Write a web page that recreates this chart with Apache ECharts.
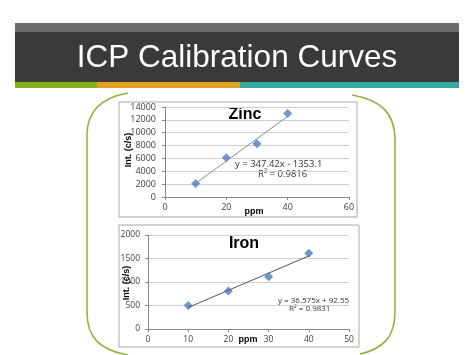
<!DOCTYPE html>
<html>
<head>
<meta charset="utf-8">
<script src="https://cdn.jsdelivr.net/npm/echarts@6/dist/echarts.min.js"></script>
<style>
  html, body { margin: 0; padding: 0; background: #fff; }
  #main { width: 474px; height: 355px; }
</style>
</head>
<body>
<div id="main"></div>
<script>
// Zinc calibration
var zincPoints = [[10, 2100], [20, 6100], [30, 8300], [40, 13000]];
var zincTrend = [[10, 2121], [40, 12543]];
var zincEquation = ['y = 347.42x - 1353.1', 'R² = 0.9816'];
// Iron calibration
var ironPoints = [[10, 500], [20, 810], [30, 1110], [40, 1610]];
var ironTrend = [[10, 458], [40, 1555]];
var ironEquation = ['y = 36.575x + 92.55', 'R² = 0.9831'];

var blue = '#4A7EBB';
var green = '#8db33a';

function xAxisOf(idx, max, interval, fs) {
    return {
        gridIndex: idx, type: 'value', min: 0, max: max, interval: interval,
        axisLine: { show: true, lineStyle: { color: '#888', width: 1 } },
        axisTick: { show: true, length: 3, lineStyle: { color: '#888' } },
        splitLine: { show: false },
        axisLabel: { margin: 6, fontFamily: 'Open Sans', fontSize: fs, color: '#404040', formatter: function (v) { return String(v); } }
    };
}
function yAxisOf(idx, max, interval, fs, margin) {
    return {
        gridIndex: idx, type: 'value', min: 0, max: max, interval: interval,
        axisLine: { show: true, lineStyle: { color: '#888', width: 1 } },
        axisTick: { show: true, length: 3, lineStyle: { color: '#888' } },
        splitLine: { show: true, lineStyle: { color: '#cfcfcf', width: 1 } },
        axisLabel: { margin: margin, fontFamily: 'Open Sans', fontSize: fs, color: '#404040', formatter: function (v) { return String(v); } }
    };
}
function curve(x1, y1, cx1, cy1, cx2, cy2, x2, y2) {
    return { type: 'bezierCurve', shape: { x1: x1, y1: y1, cpx1: cx1, cpy1: cy1, cpx2: cx2, cpy2: cy2, x2: x2, y2: y2 },
             style: { stroke: green, lineWidth: 1.5, fill: null } };
}
function seg(x1, y1, x2, y2) {
    return { type: 'line', shape: { x1: x1, y1: y1, x2: x2, y2: y2 }, style: { stroke: green, lineWidth: 1.5 } };
}
function txt(x, y, s, fs, opts) {
    return { type: 'text', x: x, y: y, rotation: (opts && opts.rot) || 0,
             style: { text: s, fill: (opts && opts.fill) || '#333', fontFamily: (opts && opts.font) || 'Open Sans',
                      fontWeight: (opts && opts.bold) ? 'bold' : 'normal', fontSize: fs,
                      align: (opts && opts.align) || 'left', verticalAlign: 'middle' } };
}

var chart = echarts.init(document.getElementById('main'));
chart.setOption({
    animation: false,
    graphic: [
        // header band
        { type: 'rect', shape: { x: 15, y: 23, width: 444, height: 9 }, style: { fill: '#6b6b6b' } },
        { type: 'rect', shape: { x: 15, y: 32, width: 444, height: 50 }, style: { fill: '#3a3a3a' } },
        { type: 'rect', shape: { x: 15, y: 82, width: 82, height: 6 }, style: { fill: '#84b01c' } },
        { type: 'rect', shape: { x: 97, y: 82, width: 143, height: 6 }, style: { fill: '#e3a224' } },
        { type: 'rect', shape: { x: 240, y: 82, width: 219, height: 6 }, style: { fill: '#33aaa0' } },
        txt(237, 58, 'ICP Calibration Curves', 31.5, { fill: '#fff', font: 'Liberation Sans', align: 'center' }),
        // green brackets
        curve(128, 93, 100, 98, 87, 112, 87, 135), seg(87, 135, 87, 312), curve(87, 312, 87, 338, 100, 350, 128, 355),
        curve(352, 95, 380, 100, 395, 112, 395, 140), seg(395, 140, 395, 312), curve(395, 312, 395, 338, 382, 349, 360, 354),
        // chart boxes
        { type: 'rect', shape: { x: 119, y: 102, width: 238, height: 115 }, style: { fill: null, stroke: '#a8a8a8', lineWidth: 1 } },
        { type: 'rect', shape: { x: 119, y: 225, width: 240, height: 122 }, style: { fill: null, stroke: '#a8a8a8', lineWidth: 1 } },
        // chart titles
        txt(245, 115, 'Zinc', 16, { fill: '#000', font: 'Liberation Sans', bold: true, align: 'center' }),
        txt(244, 244, 'Iron', 16, { fill: '#000', font: 'Liberation Sans', bold: true, align: 'center' }),
        // trendline equations
        txt(235, 164, zincEquation[0], 9.5),
        txt(258, 174, zincEquation[1], 9.5),
        txt(278, 301, ironEquation[0], 8),
        txt(289, 309, ironEquation[1], 8),
        // axis names
        txt(254, 212, 'ppm', 9, { fill: '#000', font: 'Liberation Sans', bold: true, align: 'center' }),
        txt(248, 340, 'ppm', 9, { fill: '#000', font: 'Liberation Sans', bold: true, align: 'center' }),
        txt(129, 150, 'Int. (c/s)', 9, { fill: '#000', font: 'Liberation Sans', bold: true, align: 'center', rot: Math.PI / 2 }),
        txt(127, 283, 'Int. (c/s)', 9, { fill: '#000', font: 'Liberation Sans', bold: true, align: 'center', rot: Math.PI / 2 })
    ],
    grid: [
        { left: 165, right: 125, top: 107, bottom: 158 },
        { left: 148, right: 125, top: 235, bottom: 26 }
    ],
    xAxis: [xAxisOf(0, 60, 20, 9), xAxisOf(1, 50, 10, 8.5)],
    yAxis: [yAxisOf(0, 14000, 2000, 9, 9), yAxisOf(1, 2000, 500, 8.5, 8)],
    series: [
        { type: 'line', xAxisIndex: 0, yAxisIndex: 0, data: zincTrend, symbol: 'none',
          lineStyle: { color: '#8a8a8a', width: 1 } },
        { type: 'scatter', xAxisIndex: 0, yAxisIndex: 0, data: zincPoints, symbol: 'diamond', symbolSize: 9,
          itemStyle: { color: blue } },
        { type: 'line', xAxisIndex: 1, yAxisIndex: 1, data: ironTrend, symbol: 'none',
          lineStyle: { color: '#555', width: 1 } },
        { type: 'scatter', xAxisIndex: 1, yAxisIndex: 1, data: ironPoints, symbol: 'diamond', symbolSize: 9,
          itemStyle: { color: blue } }
    ]
});
</script>
</body>
</html>
